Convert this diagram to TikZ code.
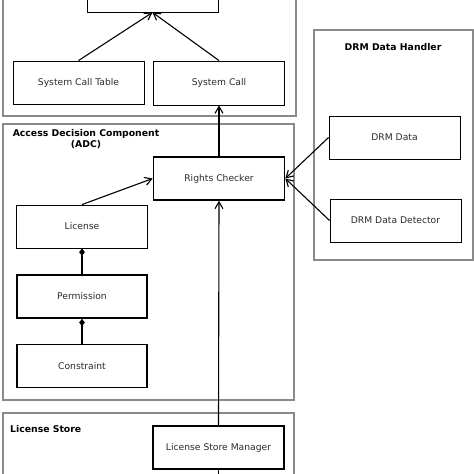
\documentclass[tikz,border=0pt]{standalone}
\usepackage{fontspec}
\setmainfont{DejaVu Sans}
\usepackage{tikz}
\usetikzlibrary{arrows.meta,positioning}
\definecolor{framegray}{HTML}{8A8A8A}
\definecolor{labelgray}{HTML}{2A2A2A}
\tikzset{
  box/.style={draw=black,line width=0.9pt,minimum width=131pt,minimum height=43pt,inner sep=0pt,text=labelgray,font=\fontsize{9.2}{11}\selectfont},
  boxthick/.style={box,line width=1.6pt},
  frame/.style={draw=framegray,line width=1.1pt},
  ftitle/.style={font=\bfseries\fontsize{9.3}{11}\selectfont,inner sep=0pt},
  callarr/.style={-{Straight Barb[length=2.4mm,width=2.8mm]},line width=1.1pt},
  partarr/.style={-{Diamond[length=2.6mm,width=2mm]},line width=1.4pt},
}
\begin{document}
\begin{tikzpicture}[x=1pt,y=-1pt]
    \clip (0,0) rectangle (474,474);
    % frames
    \draw[frame] (3,-20) rectangle (296,116);
    \draw[frame] (3,124) rectangle (294,400);
    \draw[frame] (3,413) rectangle (294,490);
    \draw[frame] (314,30) rectangle (473,260);
    \node[ftitle,align=center] (adct) at (86,139.5) {Access Decision Component\\(ADC)};
    \node[ftitle,anchor=west] (lst) at (10,429) {License Store};
    \node[ftitle] (drmt) at (393,47) {DRM Data Handler};
    % boxes
    \node[box] (top) at (152.5,-9.5) {};
    \node[box] (sct) at (78.5,82.5) {System Call Table};
    \node[box,minimum height=44pt] (sc) at (219,83) {System Call};
    \node[boxthick] (rc) at (219,178.5) {Rights Checker};
    \node[box] (lic) at (82,226.5) {License};
    \node[boxthick,minimum width=130pt] (perm) at (82,296.5) {Permission};
    \node[boxthick,minimum width=130pt] (cons) at (82,366) {Constraint};
    \node[boxthick] (lsm) at (218.5,447.5) {License Store Manager};
    \node[box] (drmd) at (394.5,137.5) {DRM Data};
    \node[box] (drmdd) at (395.5,220.5) {DRM Data Detector};
    \coordinate (stub) at (218.5,480);
    % connectors
    \draw[callarr] (sct.north) -- (top.south);
    \draw[callarr] (sc.north) -- (top.south);
    \draw[callarr] (rc.north) -- (sc.south);
    \draw[callarr] (lic.north) -- (rc.west);
    \draw[callarr] (lsm.north) -- (rc.south);
    \draw[callarr] (drmd.west) -- (rc.east);
    \draw[callarr] (drmdd.west) -- (rc.east);
    \draw[partarr] (perm.north) -- (lic.south);
    \draw[partarr] (cons.north) -- (perm.south);
    \draw[line width=1.4pt] (lsm.south) -- (stub);
\end{tikzpicture}
\end{document}
